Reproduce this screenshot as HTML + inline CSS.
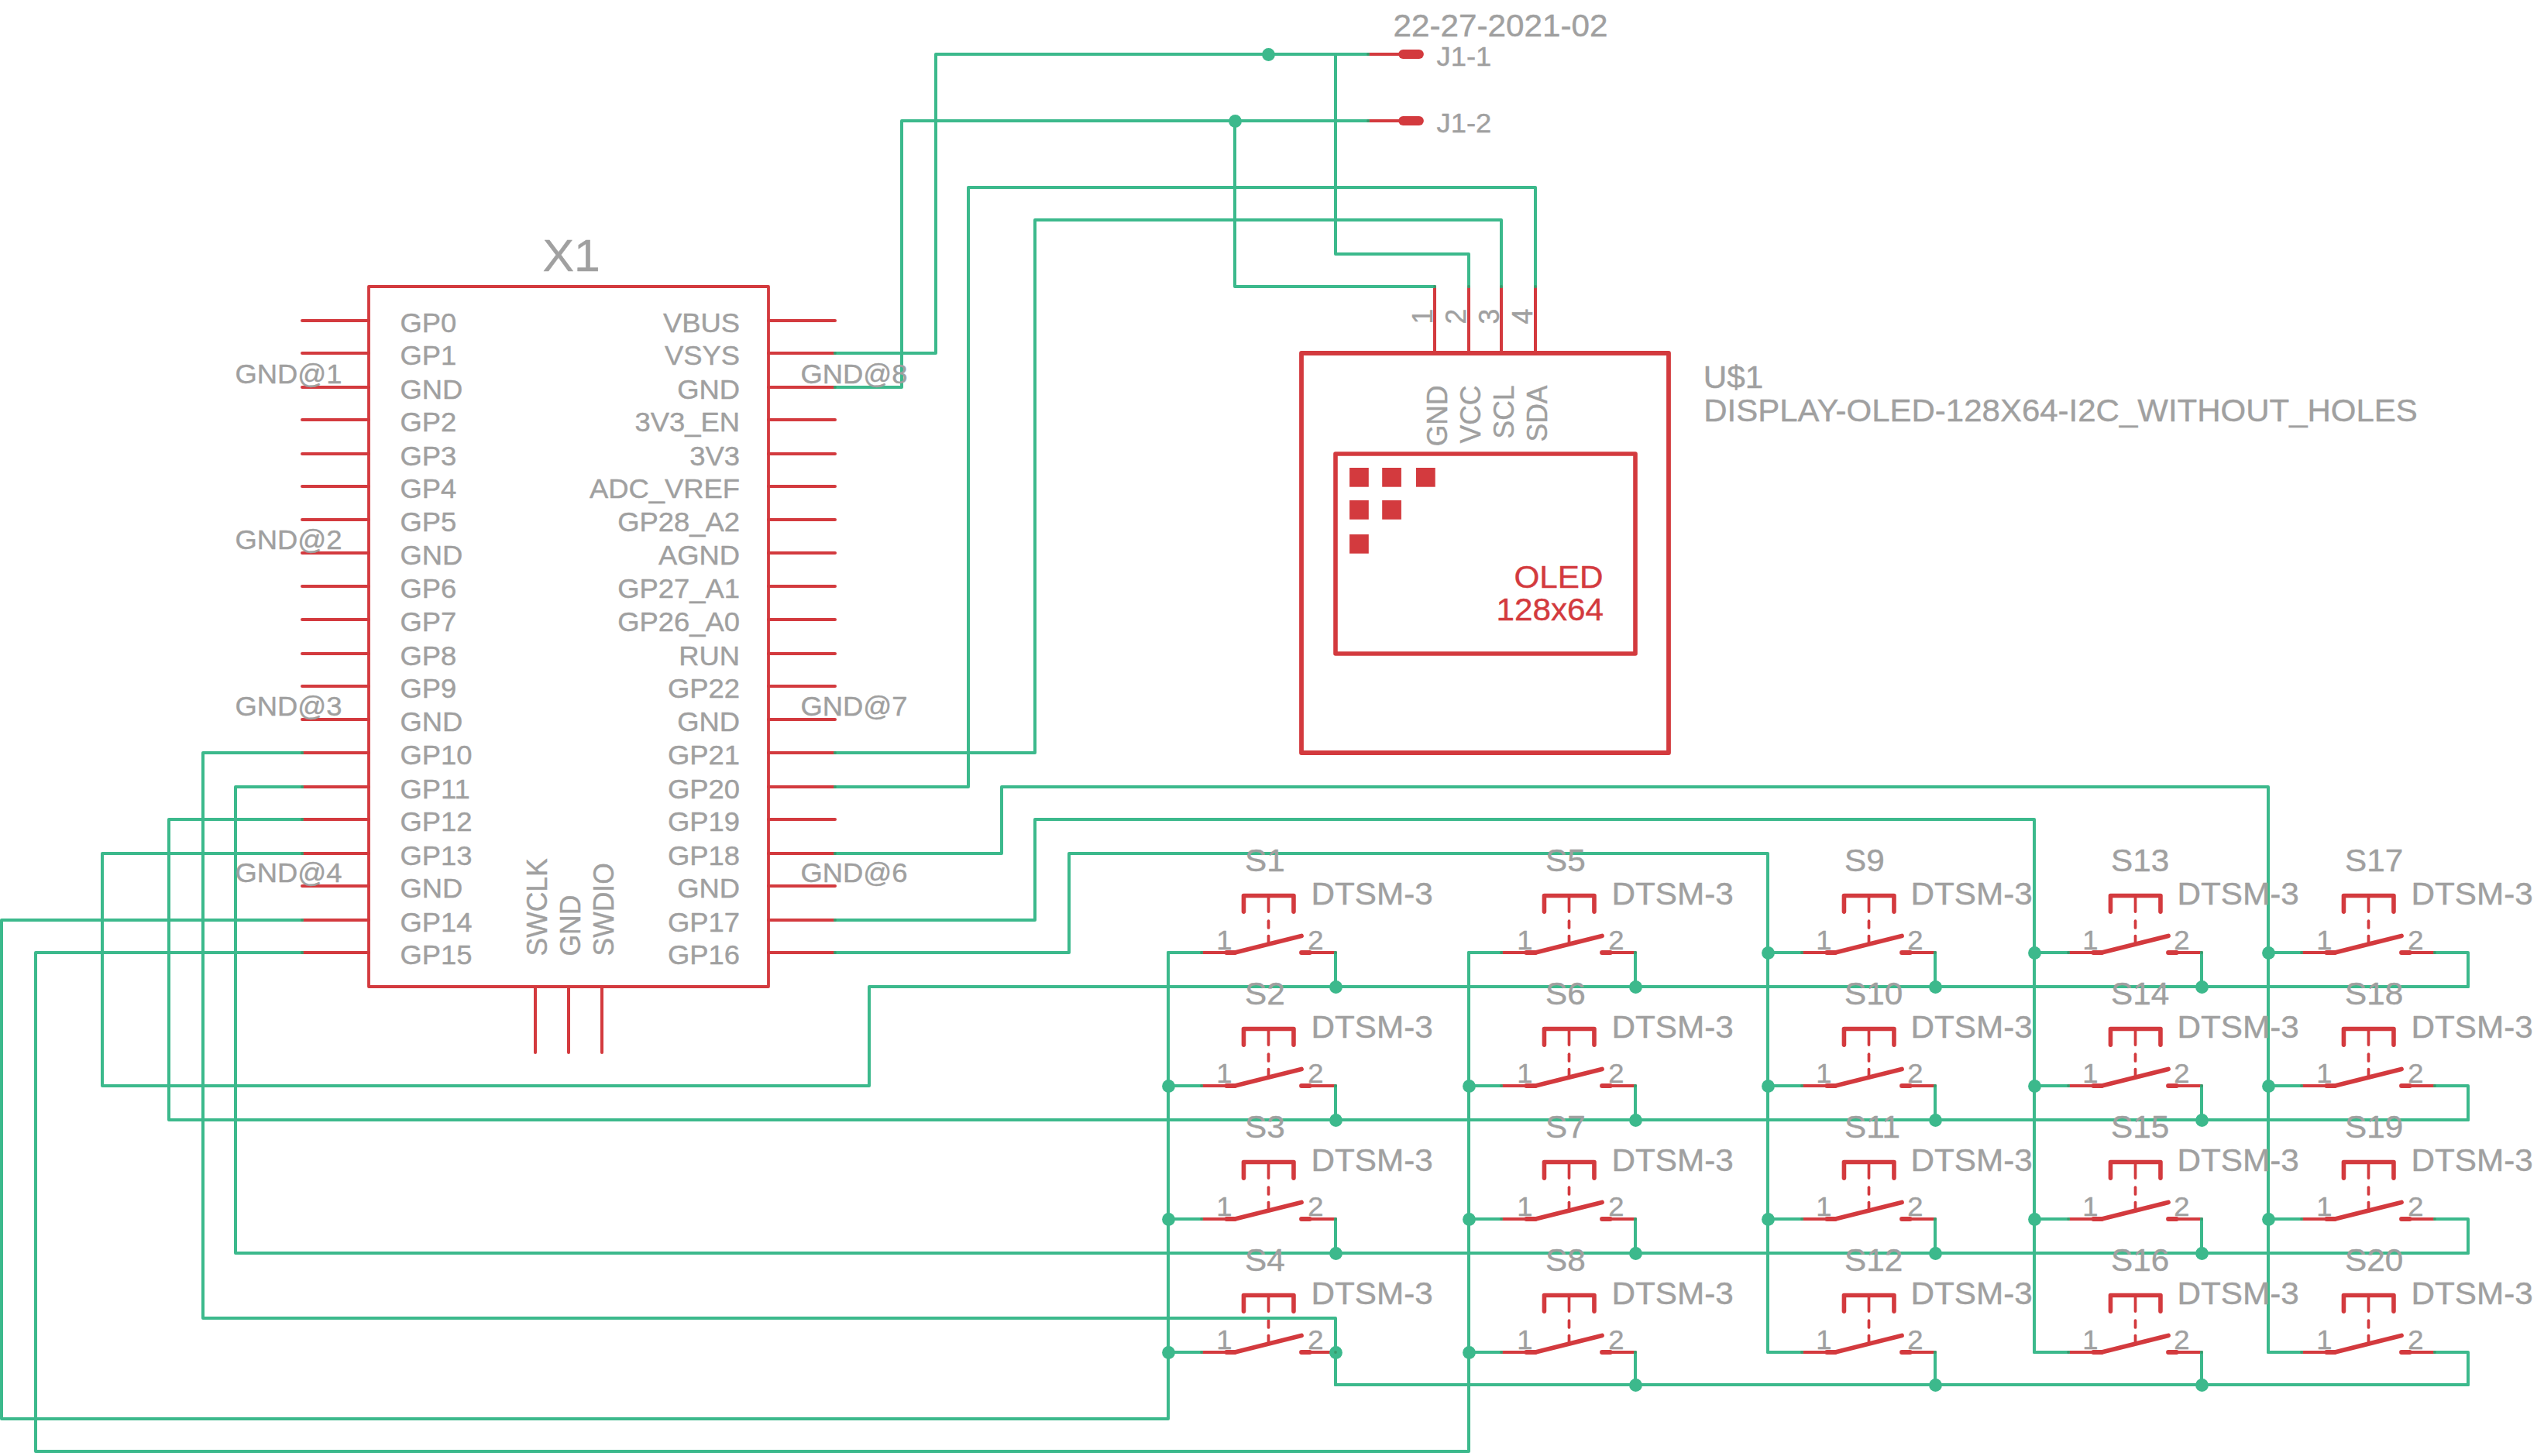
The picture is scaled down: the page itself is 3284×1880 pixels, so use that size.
<!DOCTYPE html>
<html><head><meta charset="utf-8"><style>
html,body{margin:0;padding:0;background:#fff;overflow:hidden;}
svg{display:block;}
text{font-family:"Liberation Sans",sans-serif;}
</style></head><body>
<svg width="3284" height="1880" viewBox="0 0 3284 1880" stroke-linecap="round" stroke-linejoin="round">
<rect width="3284" height="1880" fill="#fff"/>
<rect x="476" y="370" width="516" height="904" fill="none" stroke="#d33a3e" stroke-width="3.8"/>
<line x1="390" y1="414" x2="476" y2="414" stroke="#d33a3e" stroke-width="4"/>
<line x1="992" y1="414" x2="1078" y2="414" stroke="#d33a3e" stroke-width="4"/>
<line x1="390" y1="456" x2="476" y2="456" stroke="#d33a3e" stroke-width="4"/>
<line x1="992" y1="456" x2="1078" y2="456" stroke="#d33a3e" stroke-width="4"/>
<line x1="390" y1="500" x2="476" y2="500" stroke="#d33a3e" stroke-width="4"/>
<line x1="992" y1="500" x2="1078" y2="500" stroke="#d33a3e" stroke-width="4"/>
<line x1="390" y1="542" x2="476" y2="542" stroke="#d33a3e" stroke-width="4"/>
<line x1="992" y1="542" x2="1078" y2="542" stroke="#d33a3e" stroke-width="4"/>
<line x1="390" y1="586" x2="476" y2="586" stroke="#d33a3e" stroke-width="4"/>
<line x1="992" y1="586" x2="1078" y2="586" stroke="#d33a3e" stroke-width="4"/>
<line x1="390" y1="628" x2="476" y2="628" stroke="#d33a3e" stroke-width="4"/>
<line x1="992" y1="628" x2="1078" y2="628" stroke="#d33a3e" stroke-width="4"/>
<line x1="390" y1="671" x2="476" y2="671" stroke="#d33a3e" stroke-width="4"/>
<line x1="992" y1="671" x2="1078" y2="671" stroke="#d33a3e" stroke-width="4"/>
<line x1="390" y1="714" x2="476" y2="714" stroke="#d33a3e" stroke-width="4"/>
<line x1="992" y1="714" x2="1078" y2="714" stroke="#d33a3e" stroke-width="4"/>
<line x1="390" y1="757" x2="476" y2="757" stroke="#d33a3e" stroke-width="4"/>
<line x1="992" y1="757" x2="1078" y2="757" stroke="#d33a3e" stroke-width="4"/>
<line x1="390" y1="800" x2="476" y2="800" stroke="#d33a3e" stroke-width="4"/>
<line x1="992" y1="800" x2="1078" y2="800" stroke="#d33a3e" stroke-width="4"/>
<line x1="390" y1="844" x2="476" y2="844" stroke="#d33a3e" stroke-width="4"/>
<line x1="992" y1="844" x2="1078" y2="844" stroke="#d33a3e" stroke-width="4"/>
<line x1="390" y1="886" x2="476" y2="886" stroke="#d33a3e" stroke-width="4"/>
<line x1="992" y1="886" x2="1078" y2="886" stroke="#d33a3e" stroke-width="4"/>
<line x1="390" y1="929" x2="476" y2="929" stroke="#d33a3e" stroke-width="4"/>
<line x1="992" y1="929" x2="1078" y2="929" stroke="#d33a3e" stroke-width="4"/>
<line x1="390" y1="972" x2="476" y2="972" stroke="#d33a3e" stroke-width="4"/>
<line x1="992" y1="972" x2="1078" y2="972" stroke="#d33a3e" stroke-width="4"/>
<line x1="390" y1="1016" x2="476" y2="1016" stroke="#d33a3e" stroke-width="4"/>
<line x1="992" y1="1016" x2="1078" y2="1016" stroke="#d33a3e" stroke-width="4"/>
<line x1="390" y1="1058" x2="476" y2="1058" stroke="#d33a3e" stroke-width="4"/>
<line x1="992" y1="1058" x2="1078" y2="1058" stroke="#d33a3e" stroke-width="4"/>
<line x1="390" y1="1102" x2="476" y2="1102" stroke="#d33a3e" stroke-width="4"/>
<line x1="992" y1="1102" x2="1078" y2="1102" stroke="#d33a3e" stroke-width="4"/>
<line x1="390" y1="1144" x2="476" y2="1144" stroke="#d33a3e" stroke-width="4"/>
<line x1="992" y1="1144" x2="1078" y2="1144" stroke="#d33a3e" stroke-width="4"/>
<line x1="390" y1="1188" x2="476" y2="1188" stroke="#d33a3e" stroke-width="4"/>
<line x1="992" y1="1188" x2="1078" y2="1188" stroke="#d33a3e" stroke-width="4"/>
<line x1="390" y1="1230" x2="476" y2="1230" stroke="#d33a3e" stroke-width="4"/>
<line x1="992" y1="1230" x2="1078" y2="1230" stroke="#d33a3e" stroke-width="4"/>
<line x1="691" y1="1274" x2="691" y2="1359" stroke="#d33a3e" stroke-width="4"/>
<line x1="734" y1="1274" x2="734" y2="1359" stroke="#d33a3e" stroke-width="4"/>
<line x1="777" y1="1274" x2="777" y2="1359" stroke="#d33a3e" stroke-width="4"/>
<rect x="1680" y="456" width="474" height="516" fill="none" stroke="#d33a3e" stroke-width="5.8"/>
<rect x="1724" y="586" width="387" height="258" fill="none" stroke="#d33a3e" stroke-width="5.6"/>
<rect x="1742.1" y="604" width="24.7" height="24.7" fill="#d33a3e"/>
<rect x="1784.2" y="604" width="24.7" height="24.7" fill="#d33a3e"/>
<rect x="1828" y="604" width="24.7" height="24.7" fill="#d33a3e"/>
<rect x="1742.1" y="646" width="24.7" height="24.7" fill="#d33a3e"/>
<rect x="1784.2" y="646" width="24.7" height="24.7" fill="#d33a3e"/>
<rect x="1742.1" y="690" width="24.7" height="24.7" fill="#d33a3e"/>
<line x1="1852" y1="370" x2="1852" y2="456" stroke="#d33a3e" stroke-width="4"/>
<line x1="1896" y1="370" x2="1896" y2="456" stroke="#d33a3e" stroke-width="4"/>
<line x1="1938" y1="370" x2="1938" y2="456" stroke="#d33a3e" stroke-width="4"/>
<line x1="1982" y1="370" x2="1982" y2="456" stroke="#d33a3e" stroke-width="4"/>
<line x1="1766" y1="70" x2="1809" y2="70" stroke="#d33a3e" stroke-width="4"/>
<line x1="1811.2" y1="70" x2="1831.9" y2="70" stroke="#d33a3e" stroke-width="12"/>
<line x1="1766" y1="156" x2="1809" y2="156" stroke="#d33a3e" stroke-width="4"/>
<line x1="1811.2" y1="156" x2="1831.9" y2="156" stroke="#d33a3e" stroke-width="12"/>
<line x1="1551" y1="1230" x2="1594" y2="1230" stroke="#d33a3e" stroke-width="4"/>
<line x1="1583.26" y1="1230" x2="1594" y2="1230" stroke="#d33a3e" stroke-width="5.8"/>
<line x1="1594" y1="1230" x2="1680" y2="1208.5" stroke="#d33a3e" stroke-width="5.8"/>
<line x1="1680" y1="1230" x2="1724" y2="1230" stroke="#d33a3e" stroke-width="4"/>
<line x1="1680" y1="1230" x2="1690.75" y2="1230" stroke="#d33a3e" stroke-width="5.8"/>
<path d="M1605.45 1177.1 V1156.5 H1669.96 V1177.1" stroke="#d33a3e" stroke-width="5.6" fill="none"/>
<line x1="1637.5" y1="1156.5" x2="1637.5" y2="1177.1" stroke="#d33a3e" stroke-width="3.7"/>
<line x1="1637.5" y1="1189.2" x2="1637.5" y2="1197.9" stroke="#d33a3e" stroke-width="3.7"/>
<line x1="1637.5" y1="1208.5" x2="1637.5" y2="1219.25" stroke="#d33a3e" stroke-width="3.7"/>
<line x1="1551" y1="1402" x2="1594" y2="1402" stroke="#d33a3e" stroke-width="4"/>
<line x1="1583.26" y1="1402" x2="1594" y2="1402" stroke="#d33a3e" stroke-width="5.8"/>
<line x1="1594" y1="1402" x2="1680" y2="1380.5" stroke="#d33a3e" stroke-width="5.8"/>
<line x1="1680" y1="1402" x2="1724" y2="1402" stroke="#d33a3e" stroke-width="4"/>
<line x1="1680" y1="1402" x2="1690.75" y2="1402" stroke="#d33a3e" stroke-width="5.8"/>
<path d="M1605.45 1349.1 V1328.5 H1669.96 V1349.1" stroke="#d33a3e" stroke-width="5.6" fill="none"/>
<line x1="1637.5" y1="1328.5" x2="1637.5" y2="1349.1" stroke="#d33a3e" stroke-width="3.7"/>
<line x1="1637.5" y1="1361.2" x2="1637.5" y2="1369.9" stroke="#d33a3e" stroke-width="3.7"/>
<line x1="1637.5" y1="1380.5" x2="1637.5" y2="1391.25" stroke="#d33a3e" stroke-width="3.7"/>
<line x1="1551" y1="1574" x2="1594" y2="1574" stroke="#d33a3e" stroke-width="4"/>
<line x1="1583.26" y1="1574" x2="1594" y2="1574" stroke="#d33a3e" stroke-width="5.8"/>
<line x1="1594" y1="1574" x2="1680" y2="1552.5" stroke="#d33a3e" stroke-width="5.8"/>
<line x1="1680" y1="1574" x2="1724" y2="1574" stroke="#d33a3e" stroke-width="4"/>
<line x1="1680" y1="1574" x2="1690.75" y2="1574" stroke="#d33a3e" stroke-width="5.8"/>
<path d="M1605.45 1521.1 V1500.5 H1669.96 V1521.1" stroke="#d33a3e" stroke-width="5.6" fill="none"/>
<line x1="1637.5" y1="1500.5" x2="1637.5" y2="1521.1" stroke="#d33a3e" stroke-width="3.7"/>
<line x1="1637.5" y1="1533.2" x2="1637.5" y2="1541.9" stroke="#d33a3e" stroke-width="3.7"/>
<line x1="1637.5" y1="1552.5" x2="1637.5" y2="1563.25" stroke="#d33a3e" stroke-width="3.7"/>
<line x1="1551" y1="1746" x2="1594" y2="1746" stroke="#d33a3e" stroke-width="4"/>
<line x1="1583.26" y1="1746" x2="1594" y2="1746" stroke="#d33a3e" stroke-width="5.8"/>
<line x1="1594" y1="1746" x2="1680" y2="1724.5" stroke="#d33a3e" stroke-width="5.8"/>
<line x1="1680" y1="1746" x2="1724" y2="1746" stroke="#d33a3e" stroke-width="4"/>
<line x1="1680" y1="1746" x2="1690.75" y2="1746" stroke="#d33a3e" stroke-width="5.8"/>
<path d="M1605.45 1693.1 V1672.5 H1669.96 V1693.1" stroke="#d33a3e" stroke-width="5.6" fill="none"/>
<line x1="1637.5" y1="1672.5" x2="1637.5" y2="1693.1" stroke="#d33a3e" stroke-width="3.7"/>
<line x1="1637.5" y1="1705.2" x2="1637.5" y2="1713.9" stroke="#d33a3e" stroke-width="3.7"/>
<line x1="1637.5" y1="1724.5" x2="1637.5" y2="1735.25" stroke="#d33a3e" stroke-width="3.7"/>
<line x1="1938" y1="1230" x2="1982" y2="1230" stroke="#d33a3e" stroke-width="4"/>
<line x1="1970.26" y1="1230" x2="1982" y2="1230" stroke="#d33a3e" stroke-width="5.8"/>
<line x1="1982" y1="1230" x2="2068" y2="1208.5" stroke="#d33a3e" stroke-width="5.8"/>
<line x1="2068" y1="1230" x2="2111" y2="1230" stroke="#d33a3e" stroke-width="4"/>
<line x1="2068" y1="1230" x2="2078.75" y2="1230" stroke="#d33a3e" stroke-width="5.8"/>
<path d="M1993.45 1177.1 V1156.5 H2057.96 V1177.1" stroke="#d33a3e" stroke-width="5.6" fill="none"/>
<line x1="2025.5" y1="1156.5" x2="2025.5" y2="1177.1" stroke="#d33a3e" stroke-width="3.7"/>
<line x1="2025.5" y1="1189.2" x2="2025.5" y2="1197.9" stroke="#d33a3e" stroke-width="3.7"/>
<line x1="2025.5" y1="1208.5" x2="2025.5" y2="1219.25" stroke="#d33a3e" stroke-width="3.7"/>
<line x1="1938" y1="1402" x2="1982" y2="1402" stroke="#d33a3e" stroke-width="4"/>
<line x1="1970.26" y1="1402" x2="1982" y2="1402" stroke="#d33a3e" stroke-width="5.8"/>
<line x1="1982" y1="1402" x2="2068" y2="1380.5" stroke="#d33a3e" stroke-width="5.8"/>
<line x1="2068" y1="1402" x2="2111" y2="1402" stroke="#d33a3e" stroke-width="4"/>
<line x1="2068" y1="1402" x2="2078.75" y2="1402" stroke="#d33a3e" stroke-width="5.8"/>
<path d="M1993.45 1349.1 V1328.5 H2057.96 V1349.1" stroke="#d33a3e" stroke-width="5.6" fill="none"/>
<line x1="2025.5" y1="1328.5" x2="2025.5" y2="1349.1" stroke="#d33a3e" stroke-width="3.7"/>
<line x1="2025.5" y1="1361.2" x2="2025.5" y2="1369.9" stroke="#d33a3e" stroke-width="3.7"/>
<line x1="2025.5" y1="1380.5" x2="2025.5" y2="1391.25" stroke="#d33a3e" stroke-width="3.7"/>
<line x1="1938" y1="1574" x2="1982" y2="1574" stroke="#d33a3e" stroke-width="4"/>
<line x1="1970.26" y1="1574" x2="1982" y2="1574" stroke="#d33a3e" stroke-width="5.8"/>
<line x1="1982" y1="1574" x2="2068" y2="1552.5" stroke="#d33a3e" stroke-width="5.8"/>
<line x1="2068" y1="1574" x2="2111" y2="1574" stroke="#d33a3e" stroke-width="4"/>
<line x1="2068" y1="1574" x2="2078.75" y2="1574" stroke="#d33a3e" stroke-width="5.8"/>
<path d="M1993.45 1521.1 V1500.5 H2057.96 V1521.1" stroke="#d33a3e" stroke-width="5.6" fill="none"/>
<line x1="2025.5" y1="1500.5" x2="2025.5" y2="1521.1" stroke="#d33a3e" stroke-width="3.7"/>
<line x1="2025.5" y1="1533.2" x2="2025.5" y2="1541.9" stroke="#d33a3e" stroke-width="3.7"/>
<line x1="2025.5" y1="1552.5" x2="2025.5" y2="1563.25" stroke="#d33a3e" stroke-width="3.7"/>
<line x1="1938" y1="1746" x2="1982" y2="1746" stroke="#d33a3e" stroke-width="4"/>
<line x1="1970.26" y1="1746" x2="1982" y2="1746" stroke="#d33a3e" stroke-width="5.8"/>
<line x1="1982" y1="1746" x2="2068" y2="1724.5" stroke="#d33a3e" stroke-width="5.8"/>
<line x1="2068" y1="1746" x2="2111" y2="1746" stroke="#d33a3e" stroke-width="4"/>
<line x1="2068" y1="1746" x2="2078.75" y2="1746" stroke="#d33a3e" stroke-width="5.8"/>
<path d="M1993.45 1693.1 V1672.5 H2057.96 V1693.1" stroke="#d33a3e" stroke-width="5.6" fill="none"/>
<line x1="2025.5" y1="1672.5" x2="2025.5" y2="1693.1" stroke="#d33a3e" stroke-width="3.7"/>
<line x1="2025.5" y1="1705.2" x2="2025.5" y2="1713.9" stroke="#d33a3e" stroke-width="3.7"/>
<line x1="2025.5" y1="1724.5" x2="2025.5" y2="1735.25" stroke="#d33a3e" stroke-width="3.7"/>
<line x1="2326" y1="1230" x2="2369" y2="1230" stroke="#d33a3e" stroke-width="4"/>
<line x1="2358.26" y1="1230" x2="2369" y2="1230" stroke="#d33a3e" stroke-width="5.8"/>
<line x1="2369" y1="1230" x2="2455" y2="1208.5" stroke="#d33a3e" stroke-width="5.8"/>
<line x1="2455" y1="1230" x2="2498" y2="1230" stroke="#d33a3e" stroke-width="4"/>
<line x1="2455" y1="1230" x2="2465.75" y2="1230" stroke="#d33a3e" stroke-width="5.8"/>
<path d="M2380.45 1177.1 V1156.5 H2444.96 V1177.1" stroke="#d33a3e" stroke-width="5.6" fill="none"/>
<line x1="2412.5" y1="1156.5" x2="2412.5" y2="1177.1" stroke="#d33a3e" stroke-width="3.7"/>
<line x1="2412.5" y1="1189.2" x2="2412.5" y2="1197.9" stroke="#d33a3e" stroke-width="3.7"/>
<line x1="2412.5" y1="1208.5" x2="2412.5" y2="1219.25" stroke="#d33a3e" stroke-width="3.7"/>
<line x1="2326" y1="1402" x2="2369" y2="1402" stroke="#d33a3e" stroke-width="4"/>
<line x1="2358.26" y1="1402" x2="2369" y2="1402" stroke="#d33a3e" stroke-width="5.8"/>
<line x1="2369" y1="1402" x2="2455" y2="1380.5" stroke="#d33a3e" stroke-width="5.8"/>
<line x1="2455" y1="1402" x2="2498" y2="1402" stroke="#d33a3e" stroke-width="4"/>
<line x1="2455" y1="1402" x2="2465.75" y2="1402" stroke="#d33a3e" stroke-width="5.8"/>
<path d="M2380.45 1349.1 V1328.5 H2444.96 V1349.1" stroke="#d33a3e" stroke-width="5.6" fill="none"/>
<line x1="2412.5" y1="1328.5" x2="2412.5" y2="1349.1" stroke="#d33a3e" stroke-width="3.7"/>
<line x1="2412.5" y1="1361.2" x2="2412.5" y2="1369.9" stroke="#d33a3e" stroke-width="3.7"/>
<line x1="2412.5" y1="1380.5" x2="2412.5" y2="1391.25" stroke="#d33a3e" stroke-width="3.7"/>
<line x1="2326" y1="1574" x2="2369" y2="1574" stroke="#d33a3e" stroke-width="4"/>
<line x1="2358.26" y1="1574" x2="2369" y2="1574" stroke="#d33a3e" stroke-width="5.8"/>
<line x1="2369" y1="1574" x2="2455" y2="1552.5" stroke="#d33a3e" stroke-width="5.8"/>
<line x1="2455" y1="1574" x2="2498" y2="1574" stroke="#d33a3e" stroke-width="4"/>
<line x1="2455" y1="1574" x2="2465.75" y2="1574" stroke="#d33a3e" stroke-width="5.8"/>
<path d="M2380.45 1521.1 V1500.5 H2444.96 V1521.1" stroke="#d33a3e" stroke-width="5.6" fill="none"/>
<line x1="2412.5" y1="1500.5" x2="2412.5" y2="1521.1" stroke="#d33a3e" stroke-width="3.7"/>
<line x1="2412.5" y1="1533.2" x2="2412.5" y2="1541.9" stroke="#d33a3e" stroke-width="3.7"/>
<line x1="2412.5" y1="1552.5" x2="2412.5" y2="1563.25" stroke="#d33a3e" stroke-width="3.7"/>
<line x1="2326" y1="1746" x2="2369" y2="1746" stroke="#d33a3e" stroke-width="4"/>
<line x1="2358.26" y1="1746" x2="2369" y2="1746" stroke="#d33a3e" stroke-width="5.8"/>
<line x1="2369" y1="1746" x2="2455" y2="1724.5" stroke="#d33a3e" stroke-width="5.8"/>
<line x1="2455" y1="1746" x2="2498" y2="1746" stroke="#d33a3e" stroke-width="4"/>
<line x1="2455" y1="1746" x2="2465.75" y2="1746" stroke="#d33a3e" stroke-width="5.8"/>
<path d="M2380.45 1693.1 V1672.5 H2444.96 V1693.1" stroke="#d33a3e" stroke-width="5.6" fill="none"/>
<line x1="2412.5" y1="1672.5" x2="2412.5" y2="1693.1" stroke="#d33a3e" stroke-width="3.7"/>
<line x1="2412.5" y1="1705.2" x2="2412.5" y2="1713.9" stroke="#d33a3e" stroke-width="3.7"/>
<line x1="2412.5" y1="1724.5" x2="2412.5" y2="1735.25" stroke="#d33a3e" stroke-width="3.7"/>
<line x1="2670" y1="1230" x2="2713" y2="1230" stroke="#d33a3e" stroke-width="4"/>
<line x1="2702.26" y1="1230" x2="2713" y2="1230" stroke="#d33a3e" stroke-width="5.8"/>
<line x1="2713" y1="1230" x2="2799" y2="1208.5" stroke="#d33a3e" stroke-width="5.8"/>
<line x1="2799" y1="1230" x2="2842" y2="1230" stroke="#d33a3e" stroke-width="4"/>
<line x1="2799" y1="1230" x2="2809.75" y2="1230" stroke="#d33a3e" stroke-width="5.8"/>
<path d="M2724.45 1177.1 V1156.5 H2788.96 V1177.1" stroke="#d33a3e" stroke-width="5.6" fill="none"/>
<line x1="2756.5" y1="1156.5" x2="2756.5" y2="1177.1" stroke="#d33a3e" stroke-width="3.7"/>
<line x1="2756.5" y1="1189.2" x2="2756.5" y2="1197.9" stroke="#d33a3e" stroke-width="3.7"/>
<line x1="2756.5" y1="1208.5" x2="2756.5" y2="1219.25" stroke="#d33a3e" stroke-width="3.7"/>
<line x1="2670" y1="1402" x2="2713" y2="1402" stroke="#d33a3e" stroke-width="4"/>
<line x1="2702.26" y1="1402" x2="2713" y2="1402" stroke="#d33a3e" stroke-width="5.8"/>
<line x1="2713" y1="1402" x2="2799" y2="1380.5" stroke="#d33a3e" stroke-width="5.8"/>
<line x1="2799" y1="1402" x2="2842" y2="1402" stroke="#d33a3e" stroke-width="4"/>
<line x1="2799" y1="1402" x2="2809.75" y2="1402" stroke="#d33a3e" stroke-width="5.8"/>
<path d="M2724.45 1349.1 V1328.5 H2788.96 V1349.1" stroke="#d33a3e" stroke-width="5.6" fill="none"/>
<line x1="2756.5" y1="1328.5" x2="2756.5" y2="1349.1" stroke="#d33a3e" stroke-width="3.7"/>
<line x1="2756.5" y1="1361.2" x2="2756.5" y2="1369.9" stroke="#d33a3e" stroke-width="3.7"/>
<line x1="2756.5" y1="1380.5" x2="2756.5" y2="1391.25" stroke="#d33a3e" stroke-width="3.7"/>
<line x1="2670" y1="1574" x2="2713" y2="1574" stroke="#d33a3e" stroke-width="4"/>
<line x1="2702.26" y1="1574" x2="2713" y2="1574" stroke="#d33a3e" stroke-width="5.8"/>
<line x1="2713" y1="1574" x2="2799" y2="1552.5" stroke="#d33a3e" stroke-width="5.8"/>
<line x1="2799" y1="1574" x2="2842" y2="1574" stroke="#d33a3e" stroke-width="4"/>
<line x1="2799" y1="1574" x2="2809.75" y2="1574" stroke="#d33a3e" stroke-width="5.8"/>
<path d="M2724.45 1521.1 V1500.5 H2788.96 V1521.1" stroke="#d33a3e" stroke-width="5.6" fill="none"/>
<line x1="2756.5" y1="1500.5" x2="2756.5" y2="1521.1" stroke="#d33a3e" stroke-width="3.7"/>
<line x1="2756.5" y1="1533.2" x2="2756.5" y2="1541.9" stroke="#d33a3e" stroke-width="3.7"/>
<line x1="2756.5" y1="1552.5" x2="2756.5" y2="1563.25" stroke="#d33a3e" stroke-width="3.7"/>
<line x1="2670" y1="1746" x2="2713" y2="1746" stroke="#d33a3e" stroke-width="4"/>
<line x1="2702.26" y1="1746" x2="2713" y2="1746" stroke="#d33a3e" stroke-width="5.8"/>
<line x1="2713" y1="1746" x2="2799" y2="1724.5" stroke="#d33a3e" stroke-width="5.8"/>
<line x1="2799" y1="1746" x2="2842" y2="1746" stroke="#d33a3e" stroke-width="4"/>
<line x1="2799" y1="1746" x2="2809.75" y2="1746" stroke="#d33a3e" stroke-width="5.8"/>
<path d="M2724.45 1693.1 V1672.5 H2788.96 V1693.1" stroke="#d33a3e" stroke-width="5.6" fill="none"/>
<line x1="2756.5" y1="1672.5" x2="2756.5" y2="1693.1" stroke="#d33a3e" stroke-width="3.7"/>
<line x1="2756.5" y1="1705.2" x2="2756.5" y2="1713.9" stroke="#d33a3e" stroke-width="3.7"/>
<line x1="2756.5" y1="1724.5" x2="2756.5" y2="1735.25" stroke="#d33a3e" stroke-width="3.7"/>
<line x1="2971" y1="1230" x2="3014" y2="1230" stroke="#d33a3e" stroke-width="4"/>
<line x1="3003.26" y1="1230" x2="3014" y2="1230" stroke="#d33a3e" stroke-width="5.8"/>
<line x1="3014" y1="1230" x2="3100" y2="1208.5" stroke="#d33a3e" stroke-width="5.8"/>
<line x1="3100" y1="1230" x2="3143" y2="1230" stroke="#d33a3e" stroke-width="4"/>
<line x1="3100" y1="1230" x2="3110.75" y2="1230" stroke="#d33a3e" stroke-width="5.8"/>
<path d="M3025.45 1177.1 V1156.5 H3089.96 V1177.1" stroke="#d33a3e" stroke-width="5.6" fill="none"/>
<line x1="3057.5" y1="1156.5" x2="3057.5" y2="1177.1" stroke="#d33a3e" stroke-width="3.7"/>
<line x1="3057.5" y1="1189.2" x2="3057.5" y2="1197.9" stroke="#d33a3e" stroke-width="3.7"/>
<line x1="3057.5" y1="1208.5" x2="3057.5" y2="1219.25" stroke="#d33a3e" stroke-width="3.7"/>
<line x1="2971" y1="1402" x2="3014" y2="1402" stroke="#d33a3e" stroke-width="4"/>
<line x1="3003.26" y1="1402" x2="3014" y2="1402" stroke="#d33a3e" stroke-width="5.8"/>
<line x1="3014" y1="1402" x2="3100" y2="1380.5" stroke="#d33a3e" stroke-width="5.8"/>
<line x1="3100" y1="1402" x2="3143" y2="1402" stroke="#d33a3e" stroke-width="4"/>
<line x1="3100" y1="1402" x2="3110.75" y2="1402" stroke="#d33a3e" stroke-width="5.8"/>
<path d="M3025.45 1349.1 V1328.5 H3089.96 V1349.1" stroke="#d33a3e" stroke-width="5.6" fill="none"/>
<line x1="3057.5" y1="1328.5" x2="3057.5" y2="1349.1" stroke="#d33a3e" stroke-width="3.7"/>
<line x1="3057.5" y1="1361.2" x2="3057.5" y2="1369.9" stroke="#d33a3e" stroke-width="3.7"/>
<line x1="3057.5" y1="1380.5" x2="3057.5" y2="1391.25" stroke="#d33a3e" stroke-width="3.7"/>
<line x1="2971" y1="1574" x2="3014" y2="1574" stroke="#d33a3e" stroke-width="4"/>
<line x1="3003.26" y1="1574" x2="3014" y2="1574" stroke="#d33a3e" stroke-width="5.8"/>
<line x1="3014" y1="1574" x2="3100" y2="1552.5" stroke="#d33a3e" stroke-width="5.8"/>
<line x1="3100" y1="1574" x2="3143" y2="1574" stroke="#d33a3e" stroke-width="4"/>
<line x1="3100" y1="1574" x2="3110.75" y2="1574" stroke="#d33a3e" stroke-width="5.8"/>
<path d="M3025.45 1521.1 V1500.5 H3089.96 V1521.1" stroke="#d33a3e" stroke-width="5.6" fill="none"/>
<line x1="3057.5" y1="1500.5" x2="3057.5" y2="1521.1" stroke="#d33a3e" stroke-width="3.7"/>
<line x1="3057.5" y1="1533.2" x2="3057.5" y2="1541.9" stroke="#d33a3e" stroke-width="3.7"/>
<line x1="3057.5" y1="1552.5" x2="3057.5" y2="1563.25" stroke="#d33a3e" stroke-width="3.7"/>
<line x1="2971" y1="1746" x2="3014" y2="1746" stroke="#d33a3e" stroke-width="4"/>
<line x1="3003.26" y1="1746" x2="3014" y2="1746" stroke="#d33a3e" stroke-width="5.8"/>
<line x1="3014" y1="1746" x2="3100" y2="1724.5" stroke="#d33a3e" stroke-width="5.8"/>
<line x1="3100" y1="1746" x2="3143" y2="1746" stroke="#d33a3e" stroke-width="4"/>
<line x1="3100" y1="1746" x2="3110.75" y2="1746" stroke="#d33a3e" stroke-width="5.8"/>
<path d="M3025.45 1693.1 V1672.5 H3089.96 V1693.1" stroke="#d33a3e" stroke-width="5.6" fill="none"/>
<line x1="3057.5" y1="1672.5" x2="3057.5" y2="1693.1" stroke="#d33a3e" stroke-width="3.7"/>
<line x1="3057.5" y1="1705.2" x2="3057.5" y2="1713.9" stroke="#d33a3e" stroke-width="3.7"/>
<line x1="3057.5" y1="1724.5" x2="3057.5" y2="1735.25" stroke="#d33a3e" stroke-width="3.7"/>
<path d="M390 972 L262 972 L262 1702 L1724 1702 L1724 1788" stroke="#3cb98c" stroke-width="4" fill="none"/>
<path d="M390 1016 L304 1016 L304 1618 L3186 1618" stroke="#3cb98c" stroke-width="4" fill="none"/>
<path d="M390 1058 L218 1058 L218 1446 L3186 1446" stroke="#3cb98c" stroke-width="4" fill="none"/>
<path d="M390 1102 L132 1102 L132 1402 L1122 1402 L1122 1274 L3186 1274" stroke="#3cb98c" stroke-width="4" fill="none"/>
<path d="M390 1188 L2 1188 L2 1832 L1508 1832 L1508 1230 L1551 1230" stroke="#3cb98c" stroke-width="4" fill="none"/>
<path d="M390 1230 L46 1230 L46 1874 L1896 1874 L1896 1230 L1938 1230" stroke="#3cb98c" stroke-width="4" fill="none"/>
<path d="M1078 456 L1208 456 L1208 70 L1766 70" stroke="#3cb98c" stroke-width="4" fill="none"/>
<path d="M1078 500 L1164 500 L1164 156 L1766 156" stroke="#3cb98c" stroke-width="4" fill="none"/>
<path d="M1078 972 L1336 972 L1336 284 L1938 284 L1938 370" stroke="#3cb98c" stroke-width="4" fill="none"/>
<path d="M1078 1016 L1250 1016 L1250 242 L1982 242 L1982 370" stroke="#3cb98c" stroke-width="4" fill="none"/>
<path d="M1078 1102 L1293 1102 L1293 1016 L2928 1016 L2928 1746 L2971 1746" stroke="#3cb98c" stroke-width="4" fill="none"/>
<path d="M1078 1188 L1336 1188 L1336 1058 L2626 1058 L2626 1746 L2670 1746" stroke="#3cb98c" stroke-width="4" fill="none"/>
<path d="M1078 1230 L1380 1230 L1380 1102 L2282 1102 L2282 1746 L2326 1746" stroke="#3cb98c" stroke-width="4" fill="none"/>
<path d="M1724 70 L1724 328 L1896 328 L1896 370" stroke="#3cb98c" stroke-width="4" fill="none"/>
<path d="M1594 156 L1594 370 L1852 370" stroke="#3cb98c" stroke-width="4" fill="none"/>
<path d="M1724 1788 L3186 1788" stroke="#3cb98c" stroke-width="4" fill="none"/>
<path d="M1508 1230 L1551 1230" stroke="#3cb98c" stroke-width="4" fill="none"/>
<path d="M1724 1230 L1724 1274" stroke="#3cb98c" stroke-width="4" fill="none"/>
<path d="M1508 1402 L1551 1402" stroke="#3cb98c" stroke-width="4" fill="none"/>
<path d="M1724 1402 L1724 1446" stroke="#3cb98c" stroke-width="4" fill="none"/>
<path d="M1508 1574 L1551 1574" stroke="#3cb98c" stroke-width="4" fill="none"/>
<path d="M1724 1574 L1724 1618" stroke="#3cb98c" stroke-width="4" fill="none"/>
<path d="M1508 1746 L1551 1746" stroke="#3cb98c" stroke-width="4" fill="none"/>
<path d="M1724 1746 L1724 1788" stroke="#3cb98c" stroke-width="4" fill="none"/>
<path d="M1896 1230 L1938 1230" stroke="#3cb98c" stroke-width="4" fill="none"/>
<path d="M2111 1230 L2111 1274" stroke="#3cb98c" stroke-width="4" fill="none"/>
<path d="M1896 1402 L1938 1402" stroke="#3cb98c" stroke-width="4" fill="none"/>
<path d="M2111 1402 L2111 1446" stroke="#3cb98c" stroke-width="4" fill="none"/>
<path d="M1896 1574 L1938 1574" stroke="#3cb98c" stroke-width="4" fill="none"/>
<path d="M2111 1574 L2111 1618" stroke="#3cb98c" stroke-width="4" fill="none"/>
<path d="M1896 1746 L1938 1746" stroke="#3cb98c" stroke-width="4" fill="none"/>
<path d="M2111 1746 L2111 1788" stroke="#3cb98c" stroke-width="4" fill="none"/>
<path d="M2282 1230 L2326 1230" stroke="#3cb98c" stroke-width="4" fill="none"/>
<path d="M2498 1230 L2498 1274" stroke="#3cb98c" stroke-width="4" fill="none"/>
<path d="M2282 1402 L2326 1402" stroke="#3cb98c" stroke-width="4" fill="none"/>
<path d="M2498 1402 L2498 1446" stroke="#3cb98c" stroke-width="4" fill="none"/>
<path d="M2282 1574 L2326 1574" stroke="#3cb98c" stroke-width="4" fill="none"/>
<path d="M2498 1574 L2498 1618" stroke="#3cb98c" stroke-width="4" fill="none"/>
<path d="M2282 1746 L2326 1746" stroke="#3cb98c" stroke-width="4" fill="none"/>
<path d="M2498 1746 L2498 1788" stroke="#3cb98c" stroke-width="4" fill="none"/>
<path d="M2626 1230 L2670 1230" stroke="#3cb98c" stroke-width="4" fill="none"/>
<path d="M2842 1230 L2842 1274" stroke="#3cb98c" stroke-width="4" fill="none"/>
<path d="M2626 1402 L2670 1402" stroke="#3cb98c" stroke-width="4" fill="none"/>
<path d="M2842 1402 L2842 1446" stroke="#3cb98c" stroke-width="4" fill="none"/>
<path d="M2626 1574 L2670 1574" stroke="#3cb98c" stroke-width="4" fill="none"/>
<path d="M2842 1574 L2842 1618" stroke="#3cb98c" stroke-width="4" fill="none"/>
<path d="M2626 1746 L2670 1746" stroke="#3cb98c" stroke-width="4" fill="none"/>
<path d="M2842 1746 L2842 1788" stroke="#3cb98c" stroke-width="4" fill="none"/>
<path d="M2928 1230 L2971 1230" stroke="#3cb98c" stroke-width="4" fill="none"/>
<path d="M3143 1230 L3186 1230 L3186 1274" stroke="#3cb98c" stroke-width="4" fill="none"/>
<path d="M2928 1402 L2971 1402" stroke="#3cb98c" stroke-width="4" fill="none"/>
<path d="M3143 1402 L3186 1402 L3186 1446" stroke="#3cb98c" stroke-width="4" fill="none"/>
<path d="M2928 1574 L2971 1574" stroke="#3cb98c" stroke-width="4" fill="none"/>
<path d="M3143 1574 L3186 1574 L3186 1618" stroke="#3cb98c" stroke-width="4" fill="none"/>
<path d="M2928 1746 L2971 1746" stroke="#3cb98c" stroke-width="4" fill="none"/>
<path d="M3143 1746 L3186 1746 L3186 1788" stroke="#3cb98c" stroke-width="4" fill="none"/>
<circle cx="1637.5" cy="70.5" r="8.4" fill="#3cb98c"/>
<circle cx="1594.5" cy="156.5" r="8.4" fill="#3cb98c"/>
<circle cx="1724.5" cy="1746.5" r="8.4" fill="#3cb98c"/>
<circle cx="1724.5" cy="1274.5" r="8.4" fill="#3cb98c"/>
<circle cx="1508.5" cy="1402.5" r="8.4" fill="#3cb98c"/>
<circle cx="1724.5" cy="1446.5" r="8.4" fill="#3cb98c"/>
<circle cx="1508.5" cy="1574.5" r="8.4" fill="#3cb98c"/>
<circle cx="1724.5" cy="1618.5" r="8.4" fill="#3cb98c"/>
<circle cx="1508.5" cy="1746.5" r="8.4" fill="#3cb98c"/>
<circle cx="2111.5" cy="1274.5" r="8.4" fill="#3cb98c"/>
<circle cx="1896.5" cy="1402.5" r="8.4" fill="#3cb98c"/>
<circle cx="2111.5" cy="1446.5" r="8.4" fill="#3cb98c"/>
<circle cx="1896.5" cy="1574.5" r="8.4" fill="#3cb98c"/>
<circle cx="2111.5" cy="1618.5" r="8.4" fill="#3cb98c"/>
<circle cx="1896.5" cy="1746.5" r="8.4" fill="#3cb98c"/>
<circle cx="2111.5" cy="1788.5" r="8.4" fill="#3cb98c"/>
<circle cx="2282.5" cy="1230.5" r="8.4" fill="#3cb98c"/>
<circle cx="2498.5" cy="1274.5" r="8.4" fill="#3cb98c"/>
<circle cx="2282.5" cy="1402.5" r="8.4" fill="#3cb98c"/>
<circle cx="2498.5" cy="1446.5" r="8.4" fill="#3cb98c"/>
<circle cx="2282.5" cy="1574.5" r="8.4" fill="#3cb98c"/>
<circle cx="2498.5" cy="1618.5" r="8.4" fill="#3cb98c"/>
<circle cx="2498.5" cy="1788.5" r="8.4" fill="#3cb98c"/>
<circle cx="2626.5" cy="1230.5" r="8.4" fill="#3cb98c"/>
<circle cx="2842.5" cy="1274.5" r="8.4" fill="#3cb98c"/>
<circle cx="2626.5" cy="1402.5" r="8.4" fill="#3cb98c"/>
<circle cx="2842.5" cy="1446.5" r="8.4" fill="#3cb98c"/>
<circle cx="2626.5" cy="1574.5" r="8.4" fill="#3cb98c"/>
<circle cx="2842.5" cy="1618.5" r="8.4" fill="#3cb98c"/>
<circle cx="2842.5" cy="1788.5" r="8.4" fill="#3cb98c"/>
<circle cx="2928.5" cy="1230.5" r="8.4" fill="#3cb98c"/>
<circle cx="2928.5" cy="1402.5" r="8.4" fill="#3cb98c"/>
<circle cx="2928.5" cy="1574.5" r="8.4" fill="#3cb98c"/>
<circle cx="390" cy="972" r="1.9" fill="#389a6b"/>
<circle cx="390" cy="1016" r="1.9" fill="#389a6b"/>
<circle cx="390" cy="1058" r="1.9" fill="#389a6b"/>
<circle cx="390" cy="1102" r="1.9" fill="#389a6b"/>
<circle cx="390" cy="1188" r="1.9" fill="#389a6b"/>
<circle cx="390" cy="1230" r="1.9" fill="#389a6b"/>
<circle cx="1078" cy="456" r="1.9" fill="#389a6b"/>
<circle cx="1078" cy="500" r="1.9" fill="#389a6b"/>
<circle cx="1078" cy="972" r="1.9" fill="#389a6b"/>
<circle cx="1078" cy="1016" r="1.9" fill="#389a6b"/>
<circle cx="1078" cy="1102" r="1.9" fill="#389a6b"/>
<circle cx="1078" cy="1188" r="1.9" fill="#389a6b"/>
<circle cx="1078" cy="1230" r="1.9" fill="#389a6b"/>
<circle cx="1766" cy="70" r="1.9" fill="#389a6b"/>
<circle cx="1766" cy="156" r="1.9" fill="#389a6b"/>
<circle cx="1852" cy="370" r="1.9" fill="#389a6b"/>
<circle cx="1896" cy="370" r="1.9" fill="#389a6b"/>
<circle cx="1938" cy="370" r="1.9" fill="#389a6b"/>
<circle cx="1982" cy="370" r="1.9" fill="#389a6b"/>
<circle cx="1551" cy="1230" r="1.9" fill="#389a6b"/>
<circle cx="1724" cy="1230" r="1.9" fill="#389a6b"/>
<circle cx="1551" cy="1402" r="1.9" fill="#389a6b"/>
<circle cx="1724" cy="1402" r="1.9" fill="#389a6b"/>
<circle cx="1551" cy="1574" r="1.9" fill="#389a6b"/>
<circle cx="1724" cy="1574" r="1.9" fill="#389a6b"/>
<circle cx="1551" cy="1746" r="1.9" fill="#389a6b"/>
<circle cx="1724" cy="1746" r="1.9" fill="#389a6b"/>
<circle cx="1938" cy="1230" r="1.9" fill="#389a6b"/>
<circle cx="2111" cy="1230" r="1.9" fill="#389a6b"/>
<circle cx="1938" cy="1402" r="1.9" fill="#389a6b"/>
<circle cx="2111" cy="1402" r="1.9" fill="#389a6b"/>
<circle cx="1938" cy="1574" r="1.9" fill="#389a6b"/>
<circle cx="2111" cy="1574" r="1.9" fill="#389a6b"/>
<circle cx="1938" cy="1746" r="1.9" fill="#389a6b"/>
<circle cx="2111" cy="1746" r="1.9" fill="#389a6b"/>
<circle cx="2326" cy="1230" r="1.9" fill="#389a6b"/>
<circle cx="2498" cy="1230" r="1.9" fill="#389a6b"/>
<circle cx="2326" cy="1402" r="1.9" fill="#389a6b"/>
<circle cx="2498" cy="1402" r="1.9" fill="#389a6b"/>
<circle cx="2326" cy="1574" r="1.9" fill="#389a6b"/>
<circle cx="2498" cy="1574" r="1.9" fill="#389a6b"/>
<circle cx="2326" cy="1746" r="1.9" fill="#389a6b"/>
<circle cx="2498" cy="1746" r="1.9" fill="#389a6b"/>
<circle cx="2670" cy="1230" r="1.9" fill="#389a6b"/>
<circle cx="2842" cy="1230" r="1.9" fill="#389a6b"/>
<circle cx="2670" cy="1402" r="1.9" fill="#389a6b"/>
<circle cx="2842" cy="1402" r="1.9" fill="#389a6b"/>
<circle cx="2670" cy="1574" r="1.9" fill="#389a6b"/>
<circle cx="2842" cy="1574" r="1.9" fill="#389a6b"/>
<circle cx="2670" cy="1746" r="1.9" fill="#389a6b"/>
<circle cx="2842" cy="1746" r="1.9" fill="#389a6b"/>
<circle cx="2971" cy="1230" r="1.9" fill="#389a6b"/>
<circle cx="3143" cy="1230" r="1.9" fill="#389a6b"/>
<circle cx="2971" cy="1402" r="1.9" fill="#389a6b"/>
<circle cx="3143" cy="1402" r="1.9" fill="#389a6b"/>
<circle cx="2971" cy="1574" r="1.9" fill="#389a6b"/>
<circle cx="3143" cy="1574" r="1.9" fill="#389a6b"/>
<circle cx="2971" cy="1746" r="1.9" fill="#389a6b"/>
<circle cx="3143" cy="1746" r="1.9" fill="#389a6b"/>
<text transform="translate(516.5 429) scale(1.0400 1.0000)" font-size="35" fill="#a0a0a0" stroke="#a0a0a0" stroke-width="0.4" text-anchor="start">GP0</text>
<text transform="translate(516.5 471) scale(1.0400 1.0000)" font-size="35" fill="#a0a0a0" stroke="#a0a0a0" stroke-width="0.4" text-anchor="start">GP1</text>
<text transform="translate(516.5 515) scale(1.0400 1.0000)" font-size="35" fill="#a0a0a0" stroke="#a0a0a0" stroke-width="0.4" text-anchor="start">GND</text>
<text transform="translate(516.5 557) scale(1.0400 1.0000)" font-size="35" fill="#a0a0a0" stroke="#a0a0a0" stroke-width="0.4" text-anchor="start">GP2</text>
<text transform="translate(516.5 601) scale(1.0400 1.0000)" font-size="35" fill="#a0a0a0" stroke="#a0a0a0" stroke-width="0.4" text-anchor="start">GP3</text>
<text transform="translate(516.5 643) scale(1.0400 1.0000)" font-size="35" fill="#a0a0a0" stroke="#a0a0a0" stroke-width="0.4" text-anchor="start">GP4</text>
<text transform="translate(516.5 686) scale(1.0400 1.0000)" font-size="35" fill="#a0a0a0" stroke="#a0a0a0" stroke-width="0.4" text-anchor="start">GP5</text>
<text transform="translate(516.5 729) scale(1.0400 1.0000)" font-size="35" fill="#a0a0a0" stroke="#a0a0a0" stroke-width="0.4" text-anchor="start">GND</text>
<text transform="translate(516.5 772) scale(1.0400 1.0000)" font-size="35" fill="#a0a0a0" stroke="#a0a0a0" stroke-width="0.4" text-anchor="start">GP6</text>
<text transform="translate(516.5 815) scale(1.0400 1.0000)" font-size="35" fill="#a0a0a0" stroke="#a0a0a0" stroke-width="0.4" text-anchor="start">GP7</text>
<text transform="translate(516.5 859) scale(1.0400 1.0000)" font-size="35" fill="#a0a0a0" stroke="#a0a0a0" stroke-width="0.4" text-anchor="start">GP8</text>
<text transform="translate(516.5 901) scale(1.0400 1.0000)" font-size="35" fill="#a0a0a0" stroke="#a0a0a0" stroke-width="0.4" text-anchor="start">GP9</text>
<text transform="translate(516.5 944) scale(1.0400 1.0000)" font-size="35" fill="#a0a0a0" stroke="#a0a0a0" stroke-width="0.4" text-anchor="start">GND</text>
<text transform="translate(516.5 987) scale(1.0400 1.0000)" font-size="35" fill="#a0a0a0" stroke="#a0a0a0" stroke-width="0.4" text-anchor="start">GP10</text>
<text transform="translate(516.5 1031) scale(1.0400 1.0000)" font-size="35" fill="#a0a0a0" stroke="#a0a0a0" stroke-width="0.4" text-anchor="start">GP11</text>
<text transform="translate(516.5 1073) scale(1.0400 1.0000)" font-size="35" fill="#a0a0a0" stroke="#a0a0a0" stroke-width="0.4" text-anchor="start">GP12</text>
<text transform="translate(516.5 1117) scale(1.0400 1.0000)" font-size="35" fill="#a0a0a0" stroke="#a0a0a0" stroke-width="0.4" text-anchor="start">GP13</text>
<text transform="translate(516.5 1159) scale(1.0400 1.0000)" font-size="35" fill="#a0a0a0" stroke="#a0a0a0" stroke-width="0.4" text-anchor="start">GND</text>
<text transform="translate(516.5 1203) scale(1.0400 1.0000)" font-size="35" fill="#a0a0a0" stroke="#a0a0a0" stroke-width="0.4" text-anchor="start">GP14</text>
<text transform="translate(516.5 1245) scale(1.0400 1.0000)" font-size="35" fill="#a0a0a0" stroke="#a0a0a0" stroke-width="0.4" text-anchor="start">GP15</text>
<text transform="translate(955 429) scale(1.0400 1.0000)" font-size="35" fill="#a0a0a0" stroke="#a0a0a0" stroke-width="0.4" text-anchor="end">VBUS</text>
<text transform="translate(955 471) scale(1.0400 1.0000)" font-size="35" fill="#a0a0a0" stroke="#a0a0a0" stroke-width="0.4" text-anchor="end">VSYS</text>
<text transform="translate(955 515) scale(1.0400 1.0000)" font-size="35" fill="#a0a0a0" stroke="#a0a0a0" stroke-width="0.4" text-anchor="end">GND</text>
<text transform="translate(955 557) scale(1.0400 1.0000)" font-size="35" fill="#a0a0a0" stroke="#a0a0a0" stroke-width="0.4" text-anchor="end">3V3_EN</text>
<text transform="translate(955 601) scale(1.0400 1.0000)" font-size="35" fill="#a0a0a0" stroke="#a0a0a0" stroke-width="0.4" text-anchor="end">3V3</text>
<text transform="translate(955 643) scale(1.0400 1.0000)" font-size="35" fill="#a0a0a0" stroke="#a0a0a0" stroke-width="0.4" text-anchor="end">ADC_VREF</text>
<text transform="translate(955 686) scale(1.0400 1.0000)" font-size="35" fill="#a0a0a0" stroke="#a0a0a0" stroke-width="0.4" text-anchor="end">GP28_A2</text>
<text transform="translate(955 729) scale(1.0400 1.0000)" font-size="35" fill="#a0a0a0" stroke="#a0a0a0" stroke-width="0.4" text-anchor="end">AGND</text>
<text transform="translate(955 772) scale(1.0400 1.0000)" font-size="35" fill="#a0a0a0" stroke="#a0a0a0" stroke-width="0.4" text-anchor="end">GP27_A1</text>
<text transform="translate(955 815) scale(1.0400 1.0000)" font-size="35" fill="#a0a0a0" stroke="#a0a0a0" stroke-width="0.4" text-anchor="end">GP26_A0</text>
<text transform="translate(955 859) scale(1.0400 1.0000)" font-size="35" fill="#a0a0a0" stroke="#a0a0a0" stroke-width="0.4" text-anchor="end">RUN</text>
<text transform="translate(955 901) scale(1.0400 1.0000)" font-size="35" fill="#a0a0a0" stroke="#a0a0a0" stroke-width="0.4" text-anchor="end">GP22</text>
<text transform="translate(955 944) scale(1.0400 1.0000)" font-size="35" fill="#a0a0a0" stroke="#a0a0a0" stroke-width="0.4" text-anchor="end">GND</text>
<text transform="translate(955 987) scale(1.0400 1.0000)" font-size="35" fill="#a0a0a0" stroke="#a0a0a0" stroke-width="0.4" text-anchor="end">GP21</text>
<text transform="translate(955 1031) scale(1.0400 1.0000)" font-size="35" fill="#a0a0a0" stroke="#a0a0a0" stroke-width="0.4" text-anchor="end">GP20</text>
<text transform="translate(955 1073) scale(1.0400 1.0000)" font-size="35" fill="#a0a0a0" stroke="#a0a0a0" stroke-width="0.4" text-anchor="end">GP19</text>
<text transform="translate(955 1117) scale(1.0400 1.0000)" font-size="35" fill="#a0a0a0" stroke="#a0a0a0" stroke-width="0.4" text-anchor="end">GP18</text>
<text transform="translate(955 1159) scale(1.0400 1.0000)" font-size="35" fill="#a0a0a0" stroke="#a0a0a0" stroke-width="0.4" text-anchor="end">GND</text>
<text transform="translate(955 1203) scale(1.0400 1.0000)" font-size="35" fill="#a0a0a0" stroke="#a0a0a0" stroke-width="0.4" text-anchor="end">GP17</text>
<text transform="translate(955 1245) scale(1.0400 1.0000)" font-size="35" fill="#a0a0a0" stroke="#a0a0a0" stroke-width="0.4" text-anchor="end">GP16</text>
<text transform="translate(706 1234.5) rotate(-90) scale(1.0000 1.0350)" font-size="35.5" fill="#a0a0a0" stroke="#a0a0a0" stroke-width="0.4" text-anchor="start">SWCLK</text>
<text transform="translate(749 1234.5) rotate(-90) scale(1.0000 1.0350)" font-size="35.5" fill="#a0a0a0" stroke="#a0a0a0" stroke-width="0.4" text-anchor="start">GND</text>
<text transform="translate(792 1234.5) rotate(-90) scale(1.0000 1.0350)" font-size="35.5" fill="#a0a0a0" stroke="#a0a0a0" stroke-width="0.4" text-anchor="start">SWDIO</text>
<text transform="translate(303.5 495) scale(1.0400 1.0000)" font-size="35" fill="#a0a0a0" stroke="#a0a0a0" stroke-width="0.4" text-anchor="start">GND@1</text>
<text transform="translate(303.5 709) scale(1.0400 1.0000)" font-size="35" fill="#a0a0a0" stroke="#a0a0a0" stroke-width="0.4" text-anchor="start">GND@2</text>
<text transform="translate(303.5 924) scale(1.0400 1.0000)" font-size="35" fill="#a0a0a0" stroke="#a0a0a0" stroke-width="0.4" text-anchor="start">GND@3</text>
<text transform="translate(303.5 1139) scale(1.0400 1.0000)" font-size="35" fill="#a0a0a0" stroke="#a0a0a0" stroke-width="0.4" text-anchor="start">GND@4</text>
<text transform="translate(1033.5 495.3) scale(1.0400 1.0000)" font-size="35" fill="#a0a0a0" stroke="#a0a0a0" stroke-width="0.4" text-anchor="start">GND@8</text>
<text transform="translate(1033.5 924.3) scale(1.0400 1.0000)" font-size="35" fill="#a0a0a0" stroke="#a0a0a0" stroke-width="0.4" text-anchor="start">GND@7</text>
<text transform="translate(1033.5 1139.3) scale(1.0400 1.0000)" font-size="35" fill="#a0a0a0" stroke="#a0a0a0" stroke-width="0.4" text-anchor="start">GND@6</text>
<text transform="translate(700.5 349.5) scale(1.0450 1.0000)" font-size="58.2" fill="#a0a0a0" stroke="#a0a0a0" stroke-width="0.4" text-anchor="start">X1</text>
<text transform="translate(1854.5 84.8) scale(1.0400 1.0000)" font-size="35" fill="#a0a0a0" stroke="#a0a0a0" stroke-width="0.4" text-anchor="start">J1-1</text>
<text transform="translate(1854.5 170.8) scale(1.0400 1.0000)" font-size="35" fill="#a0a0a0" stroke="#a0a0a0" stroke-width="0.4" text-anchor="start">J1-2</text>
<text transform="translate(1798.5 47.2) scale(1.0180 1.0000)" font-size="41.5" fill="#a0a0a0" stroke="#a0a0a0" stroke-width="0.4" text-anchor="start">22-27-2021-02</text>
<text transform="translate(1867.6 497.5) rotate(-90) scale(1.0000 1.0350)" font-size="35.5" fill="#a0a0a0" stroke="#a0a0a0" stroke-width="0.4" text-anchor="end">GND</text>
<text transform="translate(1848.5 418.6) rotate(-90) scale(1.0000 1.0350)" font-size="35.5" fill="#a0a0a0" stroke="#a0a0a0" stroke-width="0.4" text-anchor="start">1</text>
<text transform="translate(1910.6 497.5) rotate(-90) scale(1.0000 1.0350)" font-size="35.5" fill="#a0a0a0" stroke="#a0a0a0" stroke-width="0.4" text-anchor="end">VCC</text>
<text transform="translate(1891.5 418.6) rotate(-90) scale(1.0000 1.0350)" font-size="35.5" fill="#a0a0a0" stroke="#a0a0a0" stroke-width="0.4" text-anchor="start">2</text>
<text transform="translate(1953.6 497.5) rotate(-90) scale(1.0000 1.0350)" font-size="35.5" fill="#a0a0a0" stroke="#a0a0a0" stroke-width="0.4" text-anchor="end">SCL</text>
<text transform="translate(1934.5 418.6) rotate(-90) scale(1.0000 1.0350)" font-size="35.5" fill="#a0a0a0" stroke="#a0a0a0" stroke-width="0.4" text-anchor="start">3</text>
<text transform="translate(1997.1 497.5) rotate(-90) scale(1.0000 1.0350)" font-size="35.5" fill="#a0a0a0" stroke="#a0a0a0" stroke-width="0.4" text-anchor="end">SDA</text>
<text transform="translate(1978 418.6) rotate(-90) scale(1.0000 1.0350)" font-size="35.5" fill="#a0a0a0" stroke="#a0a0a0" stroke-width="0.4" text-anchor="start">4</text>
<text transform="translate(2069.5 758.7) scale(1.0180 1.0000)" font-size="41.5" fill="#d33a3e" stroke="#d33a3e" stroke-width="0.4" text-anchor="end">OLED</text>
<text transform="translate(2070 801.4) scale(1.0180 1.0000)" font-size="41.5" fill="#d33a3e" stroke="#d33a3e" stroke-width="0.4" text-anchor="end">128x64</text>
<text transform="translate(2198.8 501) scale(1.0180 1.0000)" font-size="41.5" fill="#a0a0a0" stroke="#a0a0a0" stroke-width="0.4" text-anchor="start">U$1</text>
<text transform="translate(2199.2 544.3) scale(1.0120 1.0000)" font-size="41.5" fill="#a0a0a0" stroke="#a0a0a0" stroke-width="0.4" text-anchor="start">DISPLAY-OLED-128X64-I2C_WITHOUT_HOLES</text>
<text transform="translate(1607 1124.9) scale(1.0180 1.0000)" font-size="41.5" fill="#a0a0a0" stroke="#a0a0a0" stroke-width="0.4" text-anchor="start">S1</text>
<text transform="translate(1692.5 1167.5) scale(1.0180 1.0000)" font-size="41.5" fill="#a0a0a0" stroke="#a0a0a0" stroke-width="0.4" text-anchor="start">DTSM-3</text>
<text transform="translate(1570.2 1226.2) scale(1.0400 1.0000)" font-size="35" fill="#a0a0a0" stroke="#a0a0a0" stroke-width="0.4" text-anchor="start">1</text>
<text transform="translate(1688.3 1226.2) scale(1.0400 1.0000)" font-size="35" fill="#a0a0a0" stroke="#a0a0a0" stroke-width="0.4" text-anchor="start">2</text>
<text transform="translate(1607 1296.9) scale(1.0180 1.0000)" font-size="41.5" fill="#a0a0a0" stroke="#a0a0a0" stroke-width="0.4" text-anchor="start">S2</text>
<text transform="translate(1692.5 1339.5) scale(1.0180 1.0000)" font-size="41.5" fill="#a0a0a0" stroke="#a0a0a0" stroke-width="0.4" text-anchor="start">DTSM-3</text>
<text transform="translate(1570.2 1398.2) scale(1.0400 1.0000)" font-size="35" fill="#a0a0a0" stroke="#a0a0a0" stroke-width="0.4" text-anchor="start">1</text>
<text transform="translate(1688.3 1398.2) scale(1.0400 1.0000)" font-size="35" fill="#a0a0a0" stroke="#a0a0a0" stroke-width="0.4" text-anchor="start">2</text>
<text transform="translate(1607 1468.9) scale(1.0180 1.0000)" font-size="41.5" fill="#a0a0a0" stroke="#a0a0a0" stroke-width="0.4" text-anchor="start">S3</text>
<text transform="translate(1692.5 1511.5) scale(1.0180 1.0000)" font-size="41.5" fill="#a0a0a0" stroke="#a0a0a0" stroke-width="0.4" text-anchor="start">DTSM-3</text>
<text transform="translate(1570.2 1570.2) scale(1.0400 1.0000)" font-size="35" fill="#a0a0a0" stroke="#a0a0a0" stroke-width="0.4" text-anchor="start">1</text>
<text transform="translate(1688.3 1570.2) scale(1.0400 1.0000)" font-size="35" fill="#a0a0a0" stroke="#a0a0a0" stroke-width="0.4" text-anchor="start">2</text>
<text transform="translate(1607 1640.9) scale(1.0180 1.0000)" font-size="41.5" fill="#a0a0a0" stroke="#a0a0a0" stroke-width="0.4" text-anchor="start">S4</text>
<text transform="translate(1692.5 1683.5) scale(1.0180 1.0000)" font-size="41.5" fill="#a0a0a0" stroke="#a0a0a0" stroke-width="0.4" text-anchor="start">DTSM-3</text>
<text transform="translate(1570.2 1742.2) scale(1.0400 1.0000)" font-size="35" fill="#a0a0a0" stroke="#a0a0a0" stroke-width="0.4" text-anchor="start">1</text>
<text transform="translate(1688.3 1742.2) scale(1.0400 1.0000)" font-size="35" fill="#a0a0a0" stroke="#a0a0a0" stroke-width="0.4" text-anchor="start">2</text>
<text transform="translate(1995 1124.9) scale(1.0180 1.0000)" font-size="41.5" fill="#a0a0a0" stroke="#a0a0a0" stroke-width="0.4" text-anchor="start">S5</text>
<text transform="translate(2080.5 1167.5) scale(1.0180 1.0000)" font-size="41.5" fill="#a0a0a0" stroke="#a0a0a0" stroke-width="0.4" text-anchor="start">DTSM-3</text>
<text transform="translate(1958.2 1226.2) scale(1.0400 1.0000)" font-size="35" fill="#a0a0a0" stroke="#a0a0a0" stroke-width="0.4" text-anchor="start">1</text>
<text transform="translate(2076.3 1226.2) scale(1.0400 1.0000)" font-size="35" fill="#a0a0a0" stroke="#a0a0a0" stroke-width="0.4" text-anchor="start">2</text>
<text transform="translate(1995 1296.9) scale(1.0180 1.0000)" font-size="41.5" fill="#a0a0a0" stroke="#a0a0a0" stroke-width="0.4" text-anchor="start">S6</text>
<text transform="translate(2080.5 1339.5) scale(1.0180 1.0000)" font-size="41.5" fill="#a0a0a0" stroke="#a0a0a0" stroke-width="0.4" text-anchor="start">DTSM-3</text>
<text transform="translate(1958.2 1398.2) scale(1.0400 1.0000)" font-size="35" fill="#a0a0a0" stroke="#a0a0a0" stroke-width="0.4" text-anchor="start">1</text>
<text transform="translate(2076.3 1398.2) scale(1.0400 1.0000)" font-size="35" fill="#a0a0a0" stroke="#a0a0a0" stroke-width="0.4" text-anchor="start">2</text>
<text transform="translate(1995 1468.9) scale(1.0180 1.0000)" font-size="41.5" fill="#a0a0a0" stroke="#a0a0a0" stroke-width="0.4" text-anchor="start">S7</text>
<text transform="translate(2080.5 1511.5) scale(1.0180 1.0000)" font-size="41.5" fill="#a0a0a0" stroke="#a0a0a0" stroke-width="0.4" text-anchor="start">DTSM-3</text>
<text transform="translate(1958.2 1570.2) scale(1.0400 1.0000)" font-size="35" fill="#a0a0a0" stroke="#a0a0a0" stroke-width="0.4" text-anchor="start">1</text>
<text transform="translate(2076.3 1570.2) scale(1.0400 1.0000)" font-size="35" fill="#a0a0a0" stroke="#a0a0a0" stroke-width="0.4" text-anchor="start">2</text>
<text transform="translate(1995 1640.9) scale(1.0180 1.0000)" font-size="41.5" fill="#a0a0a0" stroke="#a0a0a0" stroke-width="0.4" text-anchor="start">S8</text>
<text transform="translate(2080.5 1683.5) scale(1.0180 1.0000)" font-size="41.5" fill="#a0a0a0" stroke="#a0a0a0" stroke-width="0.4" text-anchor="start">DTSM-3</text>
<text transform="translate(1958.2 1742.2) scale(1.0400 1.0000)" font-size="35" fill="#a0a0a0" stroke="#a0a0a0" stroke-width="0.4" text-anchor="start">1</text>
<text transform="translate(2076.3 1742.2) scale(1.0400 1.0000)" font-size="35" fill="#a0a0a0" stroke="#a0a0a0" stroke-width="0.4" text-anchor="start">2</text>
<text transform="translate(2381 1124.9) scale(1.0180 1.0000)" font-size="41.5" fill="#a0a0a0" stroke="#a0a0a0" stroke-width="0.4" text-anchor="start">S9</text>
<text transform="translate(2466.5 1167.5) scale(1.0180 1.0000)" font-size="41.5" fill="#a0a0a0" stroke="#a0a0a0" stroke-width="0.4" text-anchor="start">DTSM-3</text>
<text transform="translate(2344.2 1226.2) scale(1.0400 1.0000)" font-size="35" fill="#a0a0a0" stroke="#a0a0a0" stroke-width="0.4" text-anchor="start">1</text>
<text transform="translate(2462.3 1226.2) scale(1.0400 1.0000)" font-size="35" fill="#a0a0a0" stroke="#a0a0a0" stroke-width="0.4" text-anchor="start">2</text>
<text transform="translate(2381 1296.9) scale(1.0180 1.0000)" font-size="41.5" fill="#a0a0a0" stroke="#a0a0a0" stroke-width="0.4" text-anchor="start">S10</text>
<text transform="translate(2466.5 1339.5) scale(1.0180 1.0000)" font-size="41.5" fill="#a0a0a0" stroke="#a0a0a0" stroke-width="0.4" text-anchor="start">DTSM-3</text>
<text transform="translate(2344.2 1398.2) scale(1.0400 1.0000)" font-size="35" fill="#a0a0a0" stroke="#a0a0a0" stroke-width="0.4" text-anchor="start">1</text>
<text transform="translate(2462.3 1398.2) scale(1.0400 1.0000)" font-size="35" fill="#a0a0a0" stroke="#a0a0a0" stroke-width="0.4" text-anchor="start">2</text>
<text transform="translate(2381 1468.9) scale(1.0180 1.0000)" font-size="41.5" fill="#a0a0a0" stroke="#a0a0a0" stroke-width="0.4" text-anchor="start">S11</text>
<text transform="translate(2466.5 1511.5) scale(1.0180 1.0000)" font-size="41.5" fill="#a0a0a0" stroke="#a0a0a0" stroke-width="0.4" text-anchor="start">DTSM-3</text>
<text transform="translate(2344.2 1570.2) scale(1.0400 1.0000)" font-size="35" fill="#a0a0a0" stroke="#a0a0a0" stroke-width="0.4" text-anchor="start">1</text>
<text transform="translate(2462.3 1570.2) scale(1.0400 1.0000)" font-size="35" fill="#a0a0a0" stroke="#a0a0a0" stroke-width="0.4" text-anchor="start">2</text>
<text transform="translate(2381 1640.9) scale(1.0180 1.0000)" font-size="41.5" fill="#a0a0a0" stroke="#a0a0a0" stroke-width="0.4" text-anchor="start">S12</text>
<text transform="translate(2466.5 1683.5) scale(1.0180 1.0000)" font-size="41.5" fill="#a0a0a0" stroke="#a0a0a0" stroke-width="0.4" text-anchor="start">DTSM-3</text>
<text transform="translate(2344.2 1742.2) scale(1.0400 1.0000)" font-size="35" fill="#a0a0a0" stroke="#a0a0a0" stroke-width="0.4" text-anchor="start">1</text>
<text transform="translate(2462.3 1742.2) scale(1.0400 1.0000)" font-size="35" fill="#a0a0a0" stroke="#a0a0a0" stroke-width="0.4" text-anchor="start">2</text>
<text transform="translate(2725 1124.9) scale(1.0180 1.0000)" font-size="41.5" fill="#a0a0a0" stroke="#a0a0a0" stroke-width="0.4" text-anchor="start">S13</text>
<text transform="translate(2810.5 1167.5) scale(1.0180 1.0000)" font-size="41.5" fill="#a0a0a0" stroke="#a0a0a0" stroke-width="0.4" text-anchor="start">DTSM-3</text>
<text transform="translate(2688.2 1226.2) scale(1.0400 1.0000)" font-size="35" fill="#a0a0a0" stroke="#a0a0a0" stroke-width="0.4" text-anchor="start">1</text>
<text transform="translate(2806.3 1226.2) scale(1.0400 1.0000)" font-size="35" fill="#a0a0a0" stroke="#a0a0a0" stroke-width="0.4" text-anchor="start">2</text>
<text transform="translate(2725 1296.9) scale(1.0180 1.0000)" font-size="41.5" fill="#a0a0a0" stroke="#a0a0a0" stroke-width="0.4" text-anchor="start">S14</text>
<text transform="translate(2810.5 1339.5) scale(1.0180 1.0000)" font-size="41.5" fill="#a0a0a0" stroke="#a0a0a0" stroke-width="0.4" text-anchor="start">DTSM-3</text>
<text transform="translate(2688.2 1398.2) scale(1.0400 1.0000)" font-size="35" fill="#a0a0a0" stroke="#a0a0a0" stroke-width="0.4" text-anchor="start">1</text>
<text transform="translate(2806.3 1398.2) scale(1.0400 1.0000)" font-size="35" fill="#a0a0a0" stroke="#a0a0a0" stroke-width="0.4" text-anchor="start">2</text>
<text transform="translate(2725 1468.9) scale(1.0180 1.0000)" font-size="41.5" fill="#a0a0a0" stroke="#a0a0a0" stroke-width="0.4" text-anchor="start">S15</text>
<text transform="translate(2810.5 1511.5) scale(1.0180 1.0000)" font-size="41.5" fill="#a0a0a0" stroke="#a0a0a0" stroke-width="0.4" text-anchor="start">DTSM-3</text>
<text transform="translate(2688.2 1570.2) scale(1.0400 1.0000)" font-size="35" fill="#a0a0a0" stroke="#a0a0a0" stroke-width="0.4" text-anchor="start">1</text>
<text transform="translate(2806.3 1570.2) scale(1.0400 1.0000)" font-size="35" fill="#a0a0a0" stroke="#a0a0a0" stroke-width="0.4" text-anchor="start">2</text>
<text transform="translate(2725 1640.9) scale(1.0180 1.0000)" font-size="41.5" fill="#a0a0a0" stroke="#a0a0a0" stroke-width="0.4" text-anchor="start">S16</text>
<text transform="translate(2810.5 1683.5) scale(1.0180 1.0000)" font-size="41.5" fill="#a0a0a0" stroke="#a0a0a0" stroke-width="0.4" text-anchor="start">DTSM-3</text>
<text transform="translate(2688.2 1742.2) scale(1.0400 1.0000)" font-size="35" fill="#a0a0a0" stroke="#a0a0a0" stroke-width="0.4" text-anchor="start">1</text>
<text transform="translate(2806.3 1742.2) scale(1.0400 1.0000)" font-size="35" fill="#a0a0a0" stroke="#a0a0a0" stroke-width="0.4" text-anchor="start">2</text>
<text transform="translate(3027 1124.9) scale(1.0180 1.0000)" font-size="41.5" fill="#a0a0a0" stroke="#a0a0a0" stroke-width="0.4" text-anchor="start">S17</text>
<text transform="translate(3112.5 1167.5) scale(1.0180 1.0000)" font-size="41.5" fill="#a0a0a0" stroke="#a0a0a0" stroke-width="0.4" text-anchor="start">DTSM-3</text>
<text transform="translate(2990.2 1226.2) scale(1.0400 1.0000)" font-size="35" fill="#a0a0a0" stroke="#a0a0a0" stroke-width="0.4" text-anchor="start">1</text>
<text transform="translate(3108.3 1226.2) scale(1.0400 1.0000)" font-size="35" fill="#a0a0a0" stroke="#a0a0a0" stroke-width="0.4" text-anchor="start">2</text>
<text transform="translate(3027 1296.9) scale(1.0180 1.0000)" font-size="41.5" fill="#a0a0a0" stroke="#a0a0a0" stroke-width="0.4" text-anchor="start">S18</text>
<text transform="translate(3112.5 1339.5) scale(1.0180 1.0000)" font-size="41.5" fill="#a0a0a0" stroke="#a0a0a0" stroke-width="0.4" text-anchor="start">DTSM-3</text>
<text transform="translate(2990.2 1398.2) scale(1.0400 1.0000)" font-size="35" fill="#a0a0a0" stroke="#a0a0a0" stroke-width="0.4" text-anchor="start">1</text>
<text transform="translate(3108.3 1398.2) scale(1.0400 1.0000)" font-size="35" fill="#a0a0a0" stroke="#a0a0a0" stroke-width="0.4" text-anchor="start">2</text>
<text transform="translate(3027 1468.9) scale(1.0180 1.0000)" font-size="41.5" fill="#a0a0a0" stroke="#a0a0a0" stroke-width="0.4" text-anchor="start">S19</text>
<text transform="translate(3112.5 1511.5) scale(1.0180 1.0000)" font-size="41.5" fill="#a0a0a0" stroke="#a0a0a0" stroke-width="0.4" text-anchor="start">DTSM-3</text>
<text transform="translate(2990.2 1570.2) scale(1.0400 1.0000)" font-size="35" fill="#a0a0a0" stroke="#a0a0a0" stroke-width="0.4" text-anchor="start">1</text>
<text transform="translate(3108.3 1570.2) scale(1.0400 1.0000)" font-size="35" fill="#a0a0a0" stroke="#a0a0a0" stroke-width="0.4" text-anchor="start">2</text>
<text transform="translate(3027 1640.9) scale(1.0180 1.0000)" font-size="41.5" fill="#a0a0a0" stroke="#a0a0a0" stroke-width="0.4" text-anchor="start">S20</text>
<text transform="translate(3112.5 1683.5) scale(1.0180 1.0000)" font-size="41.5" fill="#a0a0a0" stroke="#a0a0a0" stroke-width="0.4" text-anchor="start">DTSM-3</text>
<text transform="translate(2990.2 1742.2) scale(1.0400 1.0000)" font-size="35" fill="#a0a0a0" stroke="#a0a0a0" stroke-width="0.4" text-anchor="start">1</text>
<text transform="translate(3108.3 1742.2) scale(1.0400 1.0000)" font-size="35" fill="#a0a0a0" stroke="#a0a0a0" stroke-width="0.4" text-anchor="start">2</text>
</svg>
</body></html>
